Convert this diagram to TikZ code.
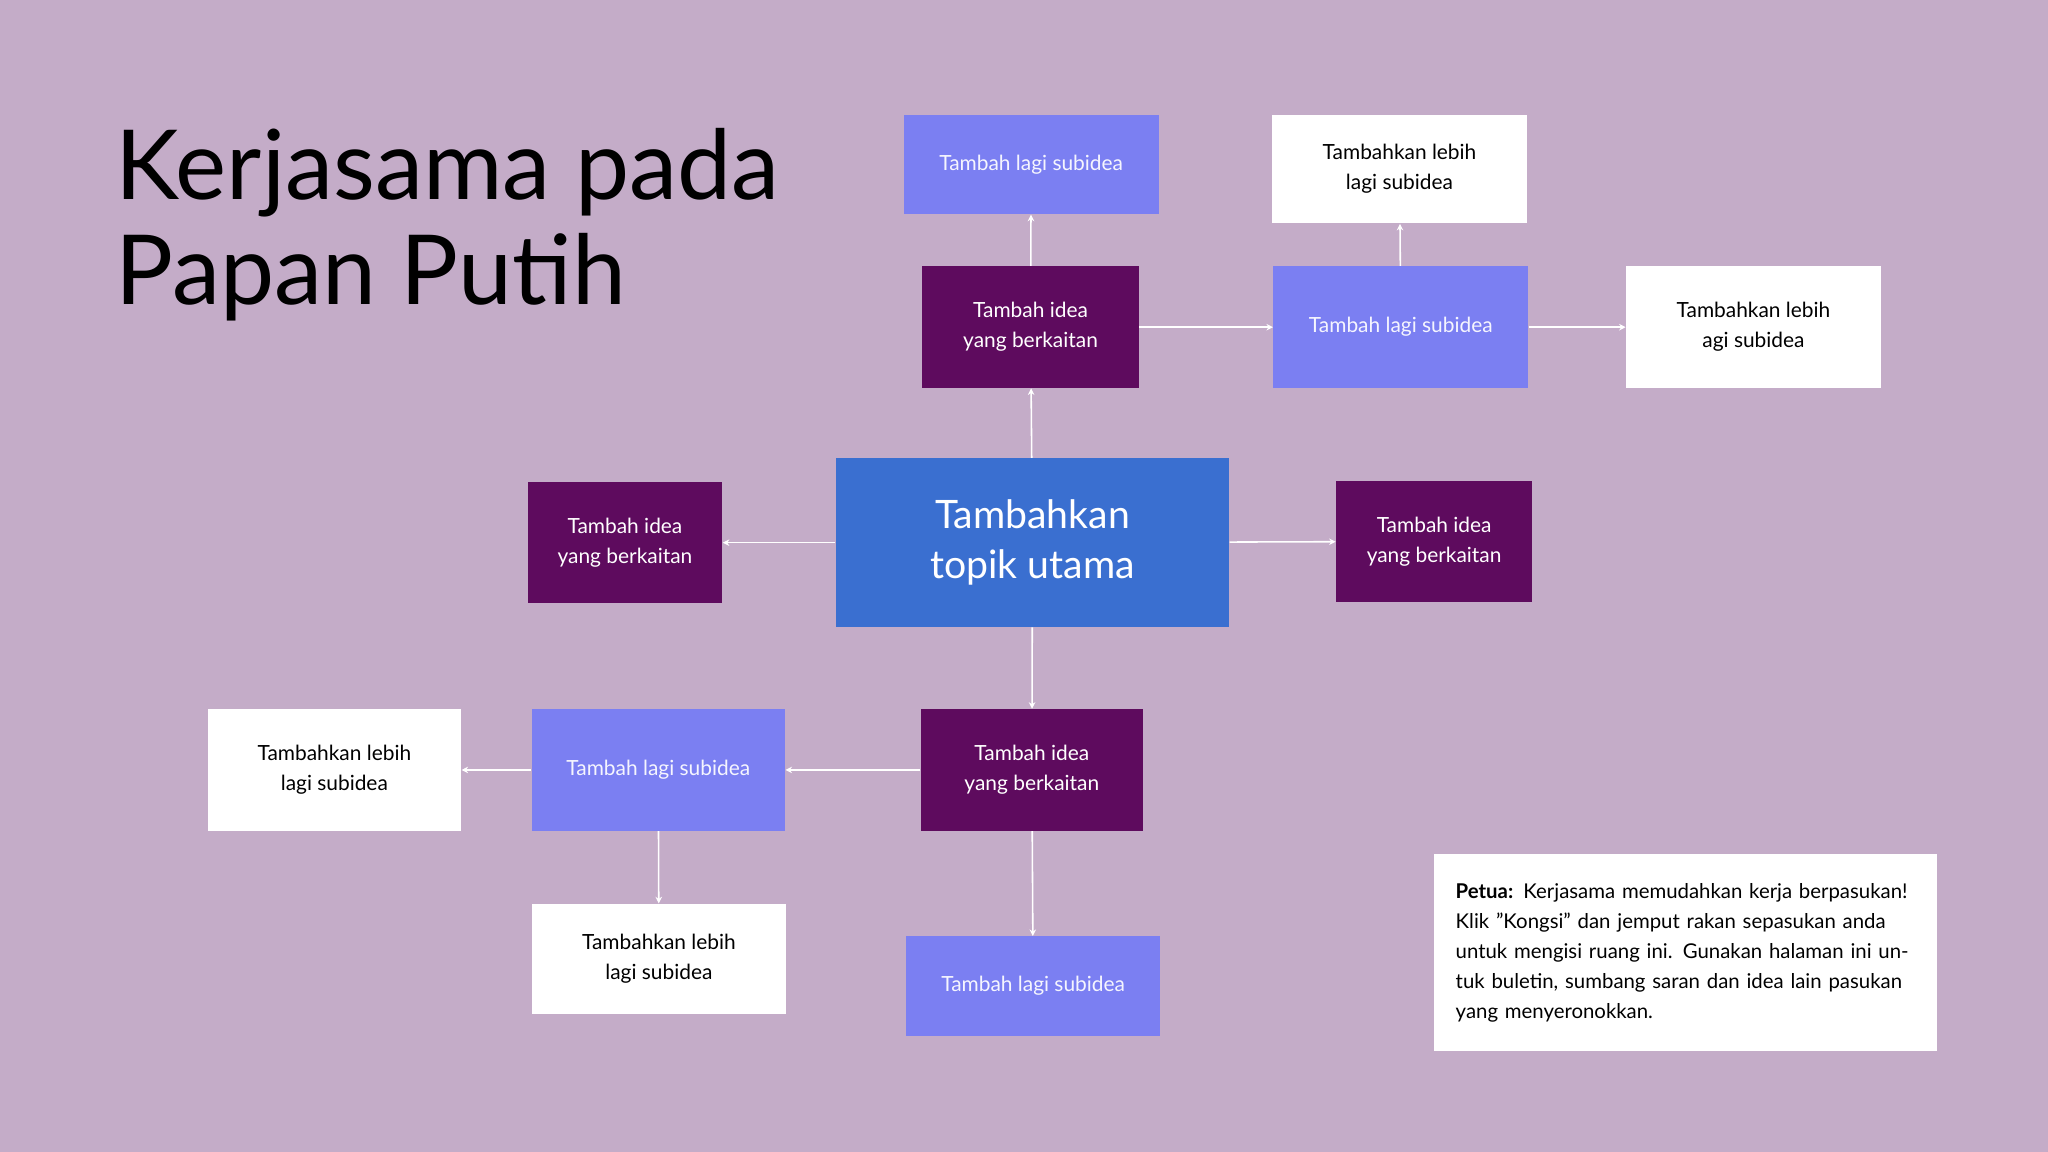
\documentclass[tikz,border=0pt]{standalone}
\usepackage{fontspec}
\setmainfont{Lato}
\usetikzlibrary{arrows.meta}
\definecolor{bg}{HTML}{C4ACC8}
\definecolor{dark}{HTML}{5E0B5E}
\definecolor{light}{HTML}{7B7FF2}
\definecolor{mainc}{HTML}{3A6FD0}
\tikzset{
 box/.style={minimum width=#1*0.5pt, inner sep=0pt, align=center, font=\fontsize{8}{11.5}\selectfont},
 darkbox/.style={box=#1, fill=dark, text=white, minimum height=46.5pt},
 lightbox/.style={box=#1, fill=light, text=white!92!light, minimum height=46.5pt},
 whitebox/.style={box=#1, fill=white, text=black, minimum height=46.5pt},
 conn/.style={draw=white, line width=0.6pt, -{Stealth[length=2.5pt,width=2.5pt]}}
}
\begin{document}
\begin{tikzpicture}[x=0.5pt,y=-0.5pt]
\fill[bg] (0,0) rectangle (1568,882);
\node[anchor=north west, align=left, font=\fontsize{37}{40}\selectfont, inner sep=0pt] (title) at (88,98) {Kerjasama pada\\Papan Putih};
\node[lightbox=195, minimum height=38pt] (A) at (789.5,126) {Tambah lagi subidea};
\node[whitebox=195, minimum height=41.5pt] (B) at (1071.5,129.5) {Tambahkan lebih\\lagi subidea};
\node[darkbox=166] (C) at (789,250.5) {Tambah idea\\yang berkaitan};
\node[lightbox=195] (D) at (1072.5,250.5) {Tambah lagi subidea};
\node[whitebox=195] (E) at (1342.5,250.5) {Tambahkan lebih\\agi subidea};
\node[box=301, minimum height=64.5pt, fill=mainc, text=white, font=\fontsize{15}{19}\selectfont] (M) at (790.5,415.5) {Tambahkan\\topik utama};
\node[darkbox=149] (F) at (478.5,415.5) {Tambah idea\\yang berkaitan};
\node[darkbox=150] (G) at (1098,414.5) {Tambah idea\\yang berkaitan};
\node[whitebox=194] (H) at (256,589.5) {Tambahkan lebih\\lagi subidea};
\node[lightbox=194] (I) at (504,589.5) {Tambah lagi subidea};
\node[darkbox=170] (J) at (790,589.5) {Tambah idea\\yang berkaitan};
\node[whitebox=195, minimum height=42pt] (K) at (504.5,734) {Tambahkan lebih\\lagi subidea};
\node[lightbox=194, minimum height=38pt] (L) at (791,755) {Tambah lagi subidea};
\node[fill=white, minimum width=192.5pt, minimum height=75.5pt, inner sep=8pt, text width=176pt, align=left, font=\fontsize{7.8}{11.5}\selectfont] (T) at (1290.5,729.5) {\textbf{Petua:} Kerjasama memudahkan kerja berpasukan! Klik "Kongsi" dan jemput rakan sepasukan anda untuk mengisi ruang ini. Gunakan halaman ini untuk buletin, sumbang saran dan idea lain pasukan yang menyeronokkan.};
\draw[conn] (M) -- (C);
\draw[conn] (C) -- (A);
\draw[conn] (C) -- (D);
\draw[conn] (D) -- (B);
\draw[conn] (D) -- (E);
\draw[conn] (M) -- (F);
\draw[conn] (M) -- (G);
\draw[conn] (M) -- (J);
\draw[conn] (J) -- (I);
\draw[conn] (I) -- (H);
\draw[conn] (I) -- (K);
\draw[conn] (J) -- (L);
\end{tikzpicture}
\end{document}
